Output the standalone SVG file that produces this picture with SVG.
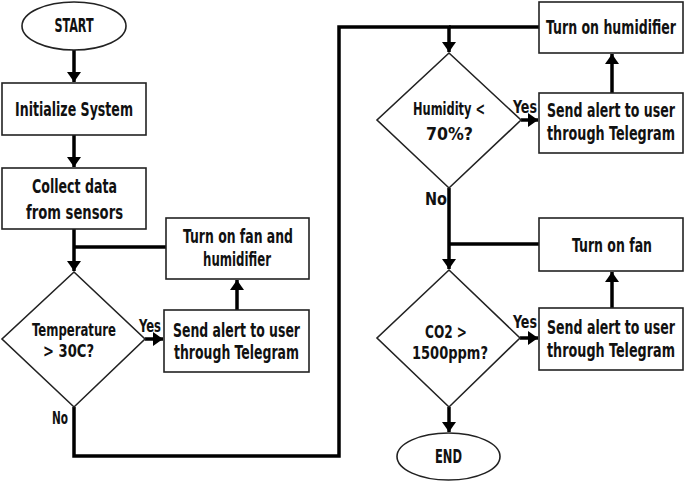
<svg xmlns="http://www.w3.org/2000/svg" width="685" height="482" viewBox="0 0 685 482">
<style>
.shape{fill:#fff;stroke:#222;stroke-width:1.6}
.conn{fill:none;stroke:#000;stroke-width:3.5}
text{font-family:"Liberation Sans Narrow","DejaVu Sans Condensed","DejaVu Sans",sans-serif;font-stretch:condensed;font-weight:bold;fill:#111;text-anchor:middle}
.t20{font-size:19px}
.t18{font-size:17px}
.lbl{font-size:17px;text-anchor:start}
</style>
<defs>
<marker id="arr" markerUnits="userSpaceOnUse" markerWidth="14" markerHeight="14" refX="10" refY="7" orient="auto">
<path d="M0 0 L10 7 L0 14 Z" fill="#000"/>
</marker>
</defs>
<rect width="685" height="482" fill="#fff"/>
<g id="connectors">
<path class="conn" d="M74 50 V82" marker-end="url(#arr)"/>
<path class="conn" d="M74 135 V167" marker-end="url(#arr)"/>
<path class="conn" d="M74 229 V271" marker-end="url(#arr)"/>
<path class="conn" d="M166 247 H74"/>
<path class="conn" d="M145 339 H163" marker-end="url(#arr)"/>
<path class="conn" d="M237 310 V280" marker-end="url(#arr)"/>
<path class="conn" d="M74 407 V456 H339 V27 H449 V52" marker-end="url(#arr)"/>
<path class="conn" d="M539 27 H449"/>
<path class="conn" d="M521 120 H538" marker-end="url(#arr)"/>
<path class="conn" d="M612 93 V54" marker-end="url(#arr)"/>
<path class="conn" d="M449 188 V269" marker-end="url(#arr)"/>
<path class="conn" d="M539 244 H449"/>
<path class="conn" d="M520 338 H538" marker-end="url(#arr)"/>
<path class="conn" d="M612 308 V272" marker-end="url(#arr)"/>
<path class="conn" d="M449 407 V432" marker-end="url(#arr)"/>
</g>
<g id="start">
<ellipse class="shape" cx="74" cy="26" rx="52" ry="24"/>
<text class="t20" x="74" y="32" textLength="39" lengthAdjust="spacingAndGlyphs">START</text>
</g>
<g id="init">
<rect class="shape" x="2" y="83" width="144" height="52"/>
<text class="t20" x="74" y="116" textLength="118" lengthAdjust="spacingAndGlyphs">Initialize System</text>
</g>
<g id="collect">
<rect class="shape" x="2" y="168" width="144" height="61"/>
<text class="t20" x="74.5" y="193" textLength="85" lengthAdjust="spacingAndGlyphs">Collect data</text>
<text class="t20" x="74.5" y="219" textLength="97" lengthAdjust="spacingAndGlyphs">from sensors</text>
</g>
<g id="fan-humidifier">
<rect class="shape" x="166" y="218" width="143" height="61"/>
<text class="t20" x="238" y="243" textLength="110" lengthAdjust="spacingAndGlyphs">Turn on fan and</text>
<text class="t20" x="237" y="266" textLength="68" lengthAdjust="spacingAndGlyphs">humidifier</text>
</g>
<g id="temp-decision">
<polygon class="shape" points="74,272 145,339 74,407 2,339"/>
<text class="t18" x="74" y="336" textLength="84" lengthAdjust="spacingAndGlyphs">Temperature</text>
<text class="t18" x="68.5" y="357" textLength="51" lengthAdjust="spacingAndGlyphs">&gt; 30C?</text>
<text class="lbl" x="139" y="332" textLength="22" lengthAdjust="spacingAndGlyphs">Yes</text>
<text class="lbl" x="52" y="424" textLength="16" lengthAdjust="spacingAndGlyphs">No</text>
</g>
<g id="alert1">
<rect class="shape" x="164" y="310" width="145" height="62"/>
<text class="t20" x="236.5" y="337" textLength="127" lengthAdjust="spacingAndGlyphs">Send alert to user</text>
<text class="t20" x="236.5" y="359" textLength="125" lengthAdjust="spacingAndGlyphs">through Telegram</text>
</g>
<g id="humidifier">
<rect class="shape" x="539" y="2" width="144" height="51"/>
<text class="t20" x="611" y="34" textLength="130" lengthAdjust="spacingAndGlyphs">Turn on humidifier</text>
</g>
<g id="humidity-decision">
<polygon class="shape" points="449,53 521,120 449,188 377,120"/>
<text class="t18" x="449" y="115" textLength="72" lengthAdjust="spacingAndGlyphs">Humidity &lt;</text>
<text class="t18" x="449.5" y="140" textLength="47" lengthAdjust="spacingAndGlyphs">70%?</text>
<text class="lbl" x="513" y="113" textLength="24" lengthAdjust="spacingAndGlyphs">Yes</text>
<text class="lbl" x="425" y="205" textLength="22" lengthAdjust="spacingAndGlyphs">No</text>
</g>
<g id="alert2">
<rect class="shape" x="539" y="93" width="144" height="60"/>
<text class="t20" x="611" y="117" textLength="128" lengthAdjust="spacingAndGlyphs">Send alert to user</text>
<text class="t20" x="611" y="140" textLength="128" lengthAdjust="spacingAndGlyphs">through Telegram</text>
</g>
<g id="fan">
<rect class="shape" x="539" y="218" width="144" height="53"/>
<text class="t20" x="612" y="252" textLength="80" lengthAdjust="spacingAndGlyphs">Turn on fan</text>
</g>
<g id="co2-decision">
<polygon class="shape" points="449,270 520,338 449,407 377,338"/>
<text class="t18" x="446" y="338" textLength="42" lengthAdjust="spacingAndGlyphs">CO2 &gt;</text>
<text class="t18" x="450" y="359" textLength="76" lengthAdjust="spacingAndGlyphs">1500ppm?</text>
<text class="lbl" x="513" y="328" textLength="24" lengthAdjust="spacingAndGlyphs">Yes</text>
</g>
<g id="alert3">
<rect class="shape" x="539" y="308" width="144" height="62"/>
<text class="t20" x="611" y="334" textLength="128" lengthAdjust="spacingAndGlyphs">Send alert to user</text>
<text class="t20" x="611" y="357" textLength="128" lengthAdjust="spacingAndGlyphs">through Telegram</text>
</g>
<g id="end">
<ellipse class="shape" cx="448.5" cy="456.5" rx="51.5" ry="23.5"/>
<text class="t20" x="448.5" y="463" textLength="27" lengthAdjust="spacingAndGlyphs">END</text>
</g>
</svg>
